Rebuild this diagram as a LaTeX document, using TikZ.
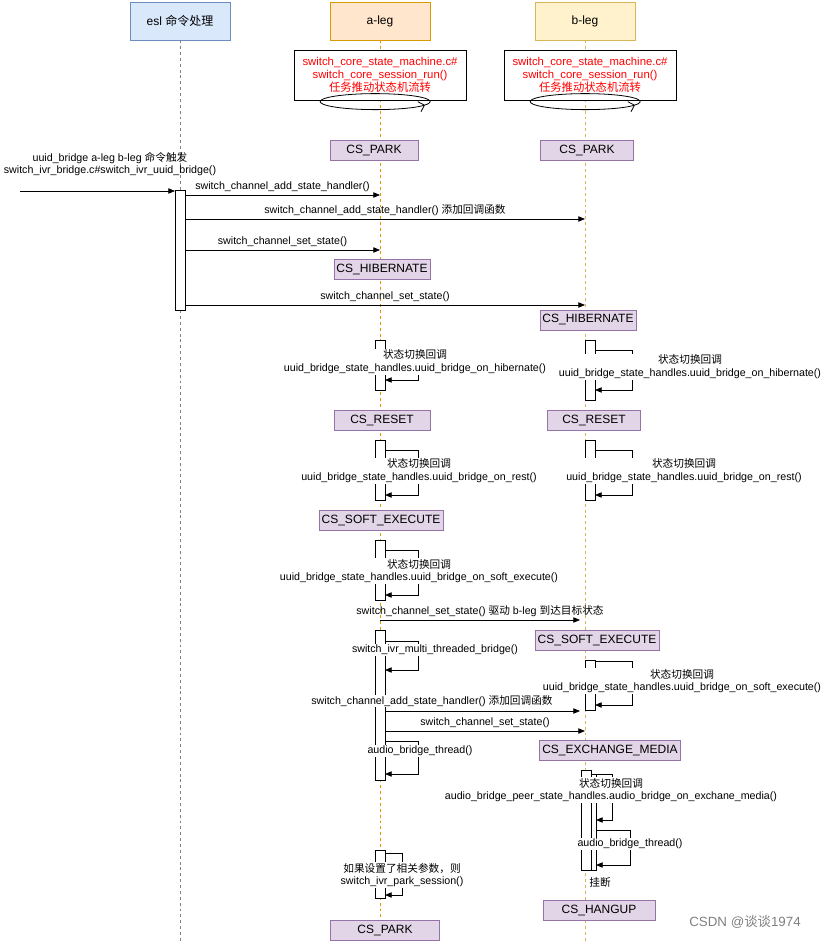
\documentclass[tikz,border=0pt]{standalone}
\usepackage{fontspec}
\setmainfont{Liberation Sans}
\newfontfamily\cjk{Noto Sans CJK SC}
\usetikzlibrary{arrows.meta}
\definecolor{stfill}{RGB}{225,213,231}
\definecolor{stdraw}{RGB}{150,115,166}
\definecolor{bluef}{RGB}{218,232,252}
\definecolor{blued}{RGB}{108,142,191}
\definecolor{oranf}{RGB}{255,230,204}
\definecolor{orand}{RGB}{215,155,0}
\definecolor{yelf}{RGB}{255,242,204}
\definecolor{yeld}{RGB}{214,182,86}
\definecolor{redt}{RGB}{255,0,0}
\begin{document}
\begin{tikzpicture}[x=0.75pt,y=-0.75pt,
  every node/.style={font=\fontsize{8}{9.6}\selectfont, inner sep=1pt},
  lbl/.style={fill=white, align=center, inner sep=0.5pt},
  head/.style={draw, minimum width=75pt, minimum height=28.5pt, font=\fontsize{9}{11}\selectfont},
  st/.style={fill=stfill, draw=stdraw, minimum height=15pt, font=\fontsize{9}{11}\selectfont, inner sep=2pt},
  bar/.style={draw, fill=white, line width=0.6pt},
  msg/.style={-{Triangle[length=5pt,width=4pt]}, line width=0.6pt},
  life/.style={dash pattern=on 2.2pt off 2.2pt, line width=0.5pt},
  red/.style={draw, fill=white, align=center, text=redt, minimum width=129pt, minimum height=37.5pt, font=\fontsize{8.5}{10}\selectfont}]
\useasboundingbox (0,0) rectangle (826,941);
% heads
\node[head, fill=bluef, draw=blued] (esl) at (180,21) {esl {\cjk 命令处理}};
\node[head, fill=oranf, draw=orand] (a) at (380,21) {a-leg};
\node[head, fill=yelf, draw=yeld] (b) at (585,21) {b-leg};
\coordinate (eslE) at (180,941); \coordinate (aE) at (380,941); \coordinate (bE) at (585,941);
\draw[life, gray] (esl.south) -- (eslE);
\draw[life, orand] (a.south) -- (aE);
\draw[life, yeld] (b.south) -- (bE);
% red boxes
\node[red] (ra) at (380,75) {switch\_core\_state\_machine.c\#\\switch\_core\_session\_run()\\{\cjk 任务推动状态机流转}};
\node[red] (rb) at (590,75) {switch\_core\_state\_machine.c\#\\switch\_core\_session\_run()\\{\cjk 任务推动状态机流转}};
\foreach \cx in {375,585}{
  \draw[-{Straight Barb[length=4pt]}, line width=0.6pt] (\cx+50,105) arc[start angle=25,end angle=-335,x radius=55,y radius=8];
}
% states
\node[st, minimum width=66pt] (pa) at (374,150.5) {CS\_PARK};
\node[st, minimum width=70pt] (pb) at (587,150.5) {CS\_PARK};
\node[st] (ha) at (382,269.5) {CS\_HIBERNATE};
\node[st] (hb) at (588,320) {CS\_HIBERNATE};
\node[st, minimum width=72pt] (rsa) at (382,420) {CS\_RESET};
\node[st, minimum width=70pt] (rsb) at (594,420) {CS\_RESET};
\node[st] (sea) at (381,520) {CS\_SOFT\_EXECUTE};
\node[st] (seb) at (597,640) {CS\_SOFT\_EXECUTE};
\node[st] (emb) at (610,750) {CS\_EXCHANGE\_MEDIA};
\node[st, minimum width=84pt] (hgb) at (599,910) {CS\_HANGUP};
\node[st, minimum width=82pt] (pa2) at (385,930.5) {CS\_PARK};
% esl
\draw[bar] (175,190) rectangle (185,310);
\coordinate (in) at (20,191); \coordinate (inE) at (175,191);
\draw[msg] (in) -- (inE);
\node[align=center] (inl) at (110,164) {uuid\_bridge a-leg b-leg {\cjk 命令触发}\\switch\_ivr\_bridge.c\#switch\_ivr\_uuid\_bridge()};
\coordinate (e1) at (185,195); \coordinate (a1) at (380,195);
\draw[msg] (e1) -- (a1) node[midway, above=1pt] {switch\_channel\_add\_state\_handler()};
\coordinate (e2) at (185,219); \coordinate (b2) at (585,219);
\draw[msg] (e2) -- (b2) node[midway, above=1pt] {switch\_channel\_add\_state\_handler() {\cjk 添加回调函数}};
\coordinate (e3) at (185,250); \coordinate (a3) at (380,250);
\draw[msg] (e3) -- (a3) node[midway, above=1pt] {switch\_channel\_set\_state()};
\coordinate (e4) at (185,305); \coordinate (b4) at (585,305);
\draw[msg] (e4) -- (b4) node[midway, above=1pt] {switch\_channel\_set\_state()};
% self loops
\foreach \bx/\ya/\yb/\rx/\lt/\lb/\lx/\ly/\tx in {
  375/340/390/418/350/380/415/362/uuid\_bridge\_state\_handles.uuid\_bridge\_on\_hibernate(),
  585/340/400/632/350/390/690/367/uuid\_bridge\_state\_handles.uuid\_bridge\_on\_hibernate(),
  375/440/500/418/450/495/419/471/uuid\_bridge\_state\_handles.uuid\_bridge\_on\_rest(),
  585/440/500/632/450/495/684/471/uuid\_bridge\_state\_handles.uuid\_bridge\_on\_rest(),
  375/540/600/418/550/595/419/571/uuid\_bridge\_state\_handles.uuid\_bridge\_on\_soft\_execute(),
  585/660/710/632/661/705/682/681/uuid\_bridge\_state\_handles.uuid\_bridge\_on\_soft\_execute()}{
  \draw[bar] (\bx,\ya) rectangle (\bx+10,\yb);
  \coordinate (s) at (\bx+10,\lt); \coordinate (t) at (\bx+10,\lb);
  \draw[msg] (s) -- (\rx,\lt) -- (\rx,\lb) -- (t);
  \node[lbl] (l) at (\lx,\ly) {{\cjk 状态切换回调}\\\tx};
}
% a long bar
\draw[bar] (375,630) rectangle (385,780);
\coordinate (m0) at (380,620); \coordinate (m0b) at (580,620);
\draw[msg] (m0) -- (m0b) node[midway, above=1pt] {switch\_channel\_set\_state() {\cjk 驱动} b-leg {\cjk 到达目标状态}};
\coordinate (m1) at (385,641); \coordinate (m1e) at (385,670);
\draw[msg] (m1) -- (418,641) -- (418,670) -- (m1e);
\node[lbl] (m1l) at (435,650) {switch\_ivr\_multi\_threaded\_bridge()};
\coordinate (m2) at (385,711); \coordinate (m2e) at (580,711);
\draw[msg] (m2) -- (m2e);
\node[lbl] (m2l) at (432,701) {switch\_channel\_add\_state\_handler() {\cjk 添加回调函数}};
\coordinate (m3) at (385,731); \coordinate (m3e) at (585,731);
\draw[msg] (m3) -- (m3e) node[midway, above=1pt] {switch\_channel\_set\_state()};
\coordinate (m4) at (385,741); \coordinate (m4e) at (385,774);
\draw[msg] (m4) -- (418,741) -- (418,774) -- (m4e);
\node[lbl] (m4l) at (420,751) {audio\_bridge\_thread()};
% b after exchange media
\draw[bar] (581,770) rectangle (591,870);
\draw[bar] (591,774) rectangle (596,870);
\coordinate (n1) at (596,774); \coordinate (n1e) at (596,820);
\draw[msg] (n1) -- (612,774) -- (612,820) -- (n1e);
\node[lbl] (n1l) at (611,790) {{\cjk 状态切换回调}\\audio\_bridge\_peer\_state\_handles.audio\_bridge\_on\_exchane\_media()};
\coordinate (n2) at (596,830); \coordinate (n2e) at (596,865);
\draw[msg] (n2) -- (630,830) -- (630,865) -- (n2e);
\node[lbl] (n2l) at (630,844) {audio\_bridge\_thread()};
\node[lbl] (hang) at (600,882) {\cjk 挂断};
% a bottom
\draw[bar] (375,850) rectangle (385,898);
\coordinate (p1) at (385,853); \coordinate (p1e) at (385,895);
\draw[msg] (p1) -- (402,853) -- (402,895) -- (p1e);
\node[lbl] (p1l) at (402,875) {{\cjk 如果设置了相关参数，则}\\switch\_ivr\_park\_session()};
\node[text=gray, font=\fontsize{10}{12}\selectfont] (wm) at (745,922) {CSDN @{\cjk 谈谈}1974};
\end{tikzpicture}
\end{document}
